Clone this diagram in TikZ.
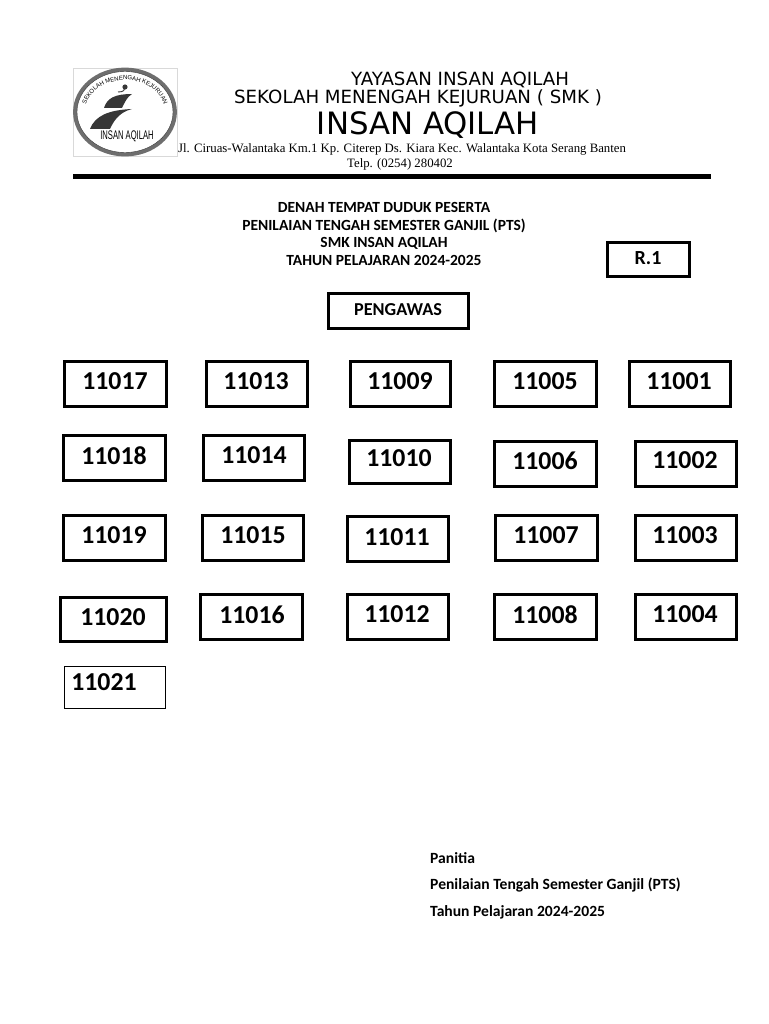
\documentclass[tikz,border=0pt]{standalone}
\usepackage{fontspec}
\setmainfont{Carlito}
\newfontfamily\headfont{DejaVu Sans}
\newfontfamily\addrfont{Liberation Serif}
\newfontfamily\logofont{Liberation Sans}
\usetikzlibrary{decorations.text}
\definecolor{logogray}{RGB}{110,110,110}
\definecolor{logodark}{RGB}{55,55,55}
\tikzset{
  seatbox/.style={draw=black,line width=3pt,fill=white},
  seattext/.style={font=\fontsize{25.8}{25.8}\selectfont\bfseries,inner sep=0pt},
  headtext/.style={font=\headfont\fontsize{18.2}{18.2}\selectfont,inner sep=0pt},
  addrtext/.style={font=\addrfont\fontsize{12.8}{12.8}\selectfont,inner sep=0pt},
  titletext/.style={font=\fontsize{15.5}{15.5}\selectfont\bfseries,inner sep=0pt},
  foottext/.style={font=\fontsize{15.6}{15.6}\selectfont\bfseries,inner sep=0pt,anchor=west},
}
\begin{document}
\begin{tikzpicture}[x=1pt,y=-1pt]
\useasboundingbox (0,0) rectangle (768,1024);
% logo
\draw [black!15,line width=0.6pt] (73,68) rectangle (177,156);
\draw [logogray,line width=3.8pt] (125,112) ellipse (50 and 42.5);
\draw [logodark,line width=0.4pt] (125,112) ellipse (48 and 40.5);
\path [decorate,decoration={text along path,text align=center,
  text={|\logofont\fontsize{6}{6}\selectfont|SEKOLAH MENENGAH KEJURUAN}}]
  (85,112) arc (180:360:40 and 32);
\fill [logodark] (104,108) .. controls (107,98) and (115,94) .. (132,94) .. controls (127,97) and (125,102) .. (122,108) -- cycle;
\fill [logodark] (90,129) .. controls (95,116) and (108,110) .. (132,109) .. controls (120,112) and (114,120) .. (110,129) -- cycle;
\draw [logodark,line width=0.9pt] (118,92) .. controls (124,92) and (125,90) .. (124,87);
\fill [logodark] (125,87) circle (2.6);
\node [font=\logofont\fontsize{12.5}{12.5}\selectfont,inner sep=0pt,xscale=0.61] (logoname) at (127,136) {INSAN AQILAH};
% kop
\node [headtext] (yayasan) at (460,79.5) {YAYASAN INSAN AQILAH};
\node [headtext] (smk) at (418,98.5) {SEKOLAH MENENGAH KEJURUAN ( SMK )};
\node [headtext,font=\headfont\fontsize{30.8}{30.8}\selectfont] (sekolah) at (428,125.5) {INSAN AQILAH};
\node [addrtext] (alamat) at (402,149.5) {Jl. Ciruas-Walantaka Km.1 Kp. Citerep Ds. Kiara Kec. Walantaka Kota Serang Banten};
\node [addrtext] (telp) at (400,164) {Telp. (0254) 280402};
\draw [black,line width=5pt] (73,177) -- (711,177);
% judul
\node [titletext] (judula) at (384,207.5) {DENAH TEMPAT DUDUK PESERTA};
\node [titletext] (judulb) at (384,225.5) {PENILAIAN TENGAH SEMESTER GANJIL (PTS)};
\node [titletext] (judulc) at (384,243.5) {SMK INSAN AQILAH};
\node [titletext] (judult) at (384,260.5) {TAHUN PELAJARAN 2024-2025};
\draw [seatbox] (607,242) rectangle (689,276);
\node [titletext,font=\fontsize{20}{20}\selectfont\bfseries] (ruang) at (648,258.5) {R.1};
\draw [seatbox] (328,293) rectangle (468,328);
\node [titletext,font=\fontsize{18.2}{18.2}\selectfont\bfseries] (pengawas) at (398,309.5) {PENGAWAS};
% kursi
\foreach \num/\xa/\ya/\xb/\yb/\tx/\ty in {
  11017/64/361/166/406/115/381.5, 11013/206/361/307/406/256/381.5, 11009/350/361/450/406/400/381.5,
  11005/494/361/596/406/545/381.5, 11001/629/361/730/406/679/381.5,
  11018/63/435/165/480/114/455.5, 11014/203/435/304/480/254/455.5, 11010/349/440/450/483/399/458.5,
  11006/494/441/596/486/545/460.5, 11002/635/441/736/486/685/460.5,
  11019/63/515/165/560/114/535.5, 11015/202/515/303/560/253/535.5, 11011/347/516/448/561/397/537.5,
  11007/495/515/597/560/546/535.5, 11003/635/515/736/560/685/535.5,
  11020/60/597/166/641/113/617.5, 11016/200/594/302/639/252/614.5, 11012/347/594/448/639/397/614.5,
  11008/494/594/596/639/545/614.5, 11004/635/594/736/639/685/614.5}
{
  \draw [seatbox] (\xa,\ya) rectangle (\xb,\yb);
  \node [seattext] (s\num) at (\tx,\ty) {\num};
}
\draw [black,line width=0.9pt] (64,666) rectangle (165,708);
\node [seattext] (s11021) at (104,682.5) {11021};
% panitia
\node [foottext] (panitia) at (430,858) {Panitia};
\node [foottext] (pts) at (430,885) {Penilaian Tengah Semester Ganjil (PTS)};
\node [foottext] (tahun) at (430,912.5) {Tahun Pelajaran 2024-2025};
\end{tikzpicture}
\end{document}
